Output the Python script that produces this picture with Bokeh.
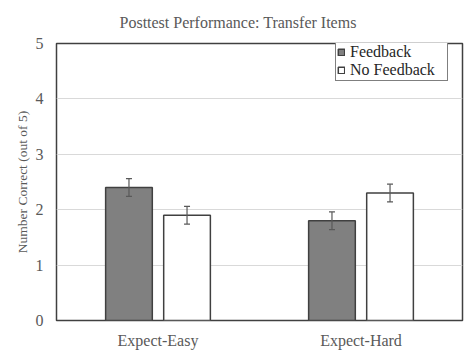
from bokeh.plotting import figure
from bokeh.models import ColumnDataSource, FactorRange, Whisker, TeeHead, Legend, LegendItem, FixedTicker, Title
from bokeh.transform import dodge
from bokeh.embed import file_html
from bokeh.resources import INLINE

categories = ["Expect-Easy", "Expect-Hard"]
feedback = [2.4, 1.8]
no_feedback = [1.9, 2.3]
feedback_err = [0.16, 0.16]
no_feedback_err = [0.16, 0.16]
y_ticks = [0, 1, 2, 3, 4, 5]

FONT = "Liberation Serif"
src = ColumnDataSource(dict(
    cat=categories,
    fb=feedback,
    nfb=no_feedback,
    fb_up=[v + e for v, e in zip(feedback, feedback_err)],
    fb_lo=[v - e for v, e in zip(feedback, feedback_err)],
    nfb_up=[v + e for v, e in zip(no_feedback, no_feedback_err)],
    nfb_lo=[v - e for v, e in zip(no_feedback, no_feedback_err)],
))

p = figure(x_range=FactorRange(*categories), y_range=(0, 5),
           frame_width=406, frame_height=277,
           output_backend="svg", toolbar_location=None,
           min_border_left=56, min_border_right=4, min_border_top=43, min_border_bottom=27)

p.title.text = "Posttest Performance: Transfer Items"
p.title.align = "left"
p.title.offset = 63
p.title.text_font = FONT
p.title.text_font_size = "16px"
p.title.text_font_style = "normal"
p.title.text_color = "#595959"

# blank spacer panel between title and frame
p.add_layout(Title(text=" ", text_font_size="6px", standoff=0), "above")

off = 0.143
w = 0.23
r1 = p.vbar(x=dodge("cat", -off, range=p.x_range), top="fb", width=w, source=src,
            fill_color="#808080", line_color="#404040", line_width=1.5)
r2 = p.vbar(x=dodge("cat", off, range=p.x_range), top="nfb", width=w, source=src,
            fill_color="#ffffff", line_color="#404040", line_width=1.5)

for base, up, lo in [(-off, "fb_up", "fb_lo"), (off, "nfb_up", "nfb_lo")]:
    wk = Whisker(source=src, base=dodge("cat", base, range=p.x_range), upper=up, lower=lo,
                 line_color="#595959", line_width=1.2, level="overlay",
                 upper_head=TeeHead(size=6, line_color="#595959", line_width=1.2),
                 lower_head=TeeHead(size=6, line_color="#595959", line_width=1.2))
    p.add_layout(wk)

legend = Legend(items=[LegendItem(label="Feedback", renderers=[r1]),
                       LegendItem(label="No Feedback", renderers=[r2])],
                location=(279, 239))
legend.label_text_font = FONT
legend.label_text_font_size = "16px"
legend.label_text_color = "#262626"
legend.glyph_width = 8
legend.glyph_height = 8
legend.label_height = 15
legend.label_width = 96
legend.label_standoff = 5
legend.spacing = 0
legend.padding = 1
legend.margin = 0
legend.border_line_color = "#000000"
legend.border_line_width = 1
legend.background_fill_alpha = 1
p.add_layout(legend)

p.outline_line_color = "#404040"
p.outline_line_width = 1.5

p.xgrid.grid_line_color = None
p.ygrid.grid_line_color = "#d9d9d9"
p.ygrid.ticker = FixedTicker(ticks=y_ticks)

p.yaxis.ticker = FixedTicker(ticks=y_ticks)
p.yaxis.axis_label = "Number Correct (out of 5)"
for ax in (p.xaxis, p.yaxis):
    ax.axis_line_color = None
    ax.major_tick_line_color = None
    ax.minor_tick_line_color = None
    ax.major_tick_out = 0
    ax.major_tick_in = 0
    ax.minor_tick_out = 0
    ax.major_label_text_font = FONT
    ax.major_label_text_font_size = "16px"
    ax.major_label_text_color = "#595959"
p.yaxis.major_label_standoff = 13
p.yaxis.axis_label_text_font = FONT
p.yaxis.axis_label_text_font_size = "13.5px"
p.yaxis.axis_label_text_font_style = "normal"
p.yaxis.axis_label_text_color = "#595959"
p.yaxis.axis_label_standoff = 3
p.xaxis.major_label_standoff = 11

open("out.html", "w").write(file_html(p, INLINE))
